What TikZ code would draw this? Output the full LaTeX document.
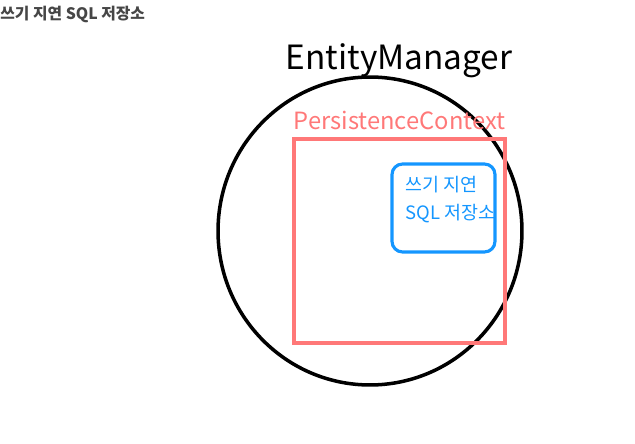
\documentclass[tikz,border=0pt]{standalone}
\usepackage{fontspec}
\setmainfont{Noto Sans CJK KR}
\usetikzlibrary{positioning,shapes.geometric}

\definecolor{pcred}{RGB}{255,120,120}
\definecolor{sqlblue}{RGB}{20,150,255}
\definecolor{titlegray}{RGB}{70,70,70}

\begin{document}
\begin{tikzpicture}[x=0.02cm, y=0.02cm,
  em/.style={ellipse, draw, line width=2pt, minimum width=6.08cm, minimum height=6.16cm},
  pc/.style={draw=pcred, line width=1.8pt, minimum width=4.22cm, minimum height=4.08cm},
  store/.style={draw=sqlblue, line width=1.8pt, rounded corners=6pt, minimum width=2.06cm, minimum height=1.76cm},
  lbl/.style={inner sep=0pt}]
	\useasboundingbox (0,0) rectangle (635,443);
	\node[lbl, anchor=west, text=titlegray, font=\fontsize{9}{11}\selectfont\bfseries] (title) at (0,429) {쓰기 지연 SQL 저장소};

	\node[em] (manager) at (370,212) {};
	\node[lbl, font=\fontsize{19}{22}\selectfont] (manager_label) at (399,382) {EntityManager};

	\node[pc] (context) at (399.5,202) {};
	\node[lbl, text=pcred, font=\fontsize{13.5}{16}\selectfont, above=4pt of context] (context_label) {PersistenceContext};

	\node[store] (store) at (443.5,235) {};
	\node[lbl, anchor=north west, text=sqlblue, align=left, font=\fontsize{10.5}{16}\selectfont] (store_label) at (405,267) {쓰기 지연\\SQL 저장소};
\end{tikzpicture}
\end{document}
